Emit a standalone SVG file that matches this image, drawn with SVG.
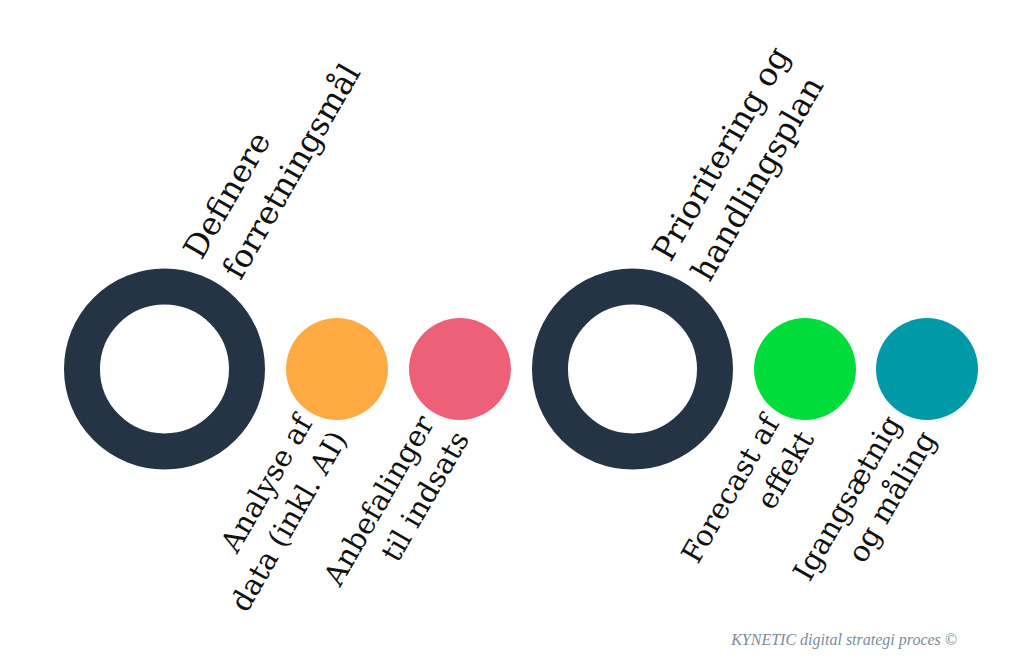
<svg xmlns="http://www.w3.org/2000/svg" width="1031" height="668" viewBox="0 0 1031 668">
<style>
.ring{fill:none;stroke:#243444;stroke-width:36}
.lbl{font-family:"DejaVu Serif","Liberation Serif",serif;fill:#111111}
.top{font-size:32px}
.bot{font-size:29px;text-anchor:end}
.foot{font-family:"Liberation Serif","Times New Roman",serif;font-style:italic;font-size:16px;fill:#7b8c9b;text-anchor:end}
</style>
<rect width="1031" height="668" fill="#ffffff"/>
<g id="connectors"></g>
<g id="node-definere">
<circle class="ring" cx="164.5" cy="369" r="82.5"/>
<text class="lbl top" transform="translate(201.5,261) rotate(-60)"><tspan x="0" y="0">Definere</tspan><tspan x="2" y="44">forretningsmål</tspan></text>
</g>
<g id="node-analyse">
<circle cx="337" cy="369" r="51" fill="#ffaa42"/>
<text class="lbl bot" transform="translate(313,423) rotate(-60)"><tspan x="0" y="0">Analyse af</tspan><tspan x="4" y="38">data (inkl. AI)</tspan></text>
</g>
<g id="node-anbefalinger">
<circle cx="460" cy="369" r="51" fill="#ee6077"/>
<text class="lbl bot" transform="translate(435,423) rotate(-60)"><tspan x="0" y="0">Anbefalinger</tspan><tspan x="4" y="38">til indsats</tspan></text>
</g>
<g id="node-prioritering">
<circle class="ring" cx="632.5" cy="369" r="82.5"/>
<text class="lbl top" transform="translate(670.5,263) rotate(-60)"><tspan x="0" y="0">Prioritering og</tspan><tspan x="2" y="44">handlingsplan</tspan></text>
</g>
<g id="node-forecast">
<circle cx="805" cy="369" r="51" fill="#00dd3a"/>
<text class="lbl bot" transform="translate(780,423) rotate(-60)"><tspan x="0" y="0">Forecast af</tspan><tspan x="4" y="38">effekt</tspan></text>
</g>
<g id="node-igangsaetning">
<circle cx="927" cy="369" r="51" fill="#0099a8"/>
<text class="lbl bot" transform="translate(902,423) rotate(-60)"><tspan x="0" y="0">Igangsætnig</tspan><tspan x="4" y="38">og måling</tspan></text>
</g>
<text class="foot" x="957" y="645">KYNETIC digital strategi proces ©</text>
</svg>
